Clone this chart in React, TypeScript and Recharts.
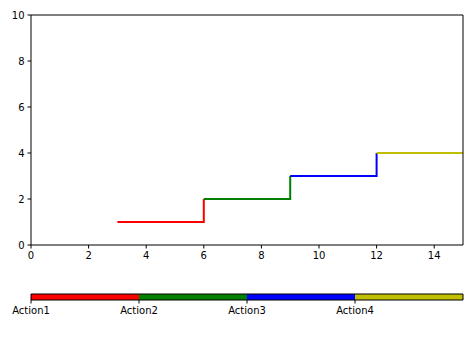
import React from 'react';
import { LineChart, Line, XAxis, YAxis, BarChart, Bar } from 'recharts';

const xValues = [3, 6, 9, 12, 15];
const yValues = [1, 2, 3, 4, 4];
const actions = ['Action1', 'Action2', 'Action3', 'Action4'];
const colors = ['#ff0000', '#008000', '#0000ff', '#bfbf00'];
const xTicks = [0, 2, 4, 6, 8, 10, 12, 14];
const yTicks = [0, 2, 4, 6, 8, 10];
const barTicks = [0, 1, 2, 3];

const segments = actions.map((a, i) => ({
  name: a,
  color: colors[i],
  data: [
    { x: xValues[i], y: yValues[i] },
    { x: xValues[i + 1], y: yValues[i + 1] },
  ],
}));

const barRow: Record<string, any> = { name: 'bar' };
actions.forEach((a) => (barRow[a] = 1));
const barData = [barRow];

const tickStyle = { fill: '#000', fontSize: 10, fontFamily: 'DejaVu Sans' };

export default function App() {
  return (
    <div style={{ position: 'absolute', left: 0, top: 0, width: 474, height: 355, background: '#fff' }}>
      <div style={{ position: 'absolute', left: 0, top: 0 }}>
        <LineChart width={474} height={280} margin={{ top: 14, right: 10, bottom: 10, left: 5 }}>
          <XAxis
            xAxisId="b"
            type="number"
            dataKey="x"
            domain={[0, 15]}
            ticks={xTicks}
            allowDataOverflow
            height={25}
            tick={tickStyle}
            tickSize={3.5}
            tickMargin={3}
            axisLine={{ stroke: '#000' }}
            tickLine={{ stroke: '#000' }}
          />
          <XAxis
            xAxisId="t"
            orientation="top"
            type="number"
            dataKey="x"
            domain={[0, 15]}
            height={1}
            tick={false}
            tickLine={false}
            axisLine={{ stroke: '#000' }}
          />
          <YAxis
            yAxisId="l"
            type="number"
            domain={[0, 10]}
            ticks={yTicks}
            width={26}
            tick={tickStyle}
            tickSize={3.5}
            tickMargin={3}
            axisLine={{ stroke: '#000' }}
            tickLine={{ stroke: '#000' }}
          />
          <YAxis
            yAxisId="r"
            orientation="right"
            type="number"
            domain={[0, 10]}
            width={1}
            tick={false}
            tickLine={false}
            axisLine={{ stroke: '#000' }}
          />
          {segments.map((s) => (
            <Line
              key={s.name}
              xAxisId="b"
              yAxisId="l"
              data={s.data}
              dataKey="y"
              type="stepAfter"
              stroke={s.color}
              strokeWidth={2}
              dot={false}
              isAnimationActive={false}
            />
          ))}
        </LineChart>
      </div>
      <div style={{ position: 'absolute', left: 0, top: 280 }}>
        <BarChart
          width={474}
          height={50}
          data={barData}
          layout="vertical"
          barCategoryGap={0}
          margin={{ top: 13, right: 10, bottom: 0, left: 30 }}
        >
          <XAxis
            xAxisId="b"
            type="number"
            domain={[0, 4]}
            ticks={barTicks}
            tickFormatter={(v: number) => actions[v]}
            height={30}
            tick={tickStyle}
            tickSize={3.5}
            tickMargin={3}
            axisLine={{ stroke: '#000' }}
            tickLine={{ stroke: '#000' }}
            interval={0}
          />
          <XAxis
            xAxisId="t"
            orientation="top"
            type="number"
            domain={[0, 4]}
            height={1}
            tick={false}
            tickLine={false}
            axisLine={{ stroke: '#000' }}
          />
          <YAxis yAxisId="l" type="category" dataKey="name" width={1} tick={false} tickLine={false} axisLine={{ stroke: '#000' }} />
          <YAxis yAxisId="r" orientation="right" type="category" dataKey="name" width={1} tick={false} tickLine={false} axisLine={{ stroke: '#000' }} />
          {actions.map((a, i) => (
            <Bar
              key={a}
              xAxisId="b"
              yAxisId="l"
              dataKey={a}
              stackId="s"
              fill={colors[i]}
              isAnimationActive={false}
            />
          ))}
        </BarChart>
      </div>
    </div>
  );
}
